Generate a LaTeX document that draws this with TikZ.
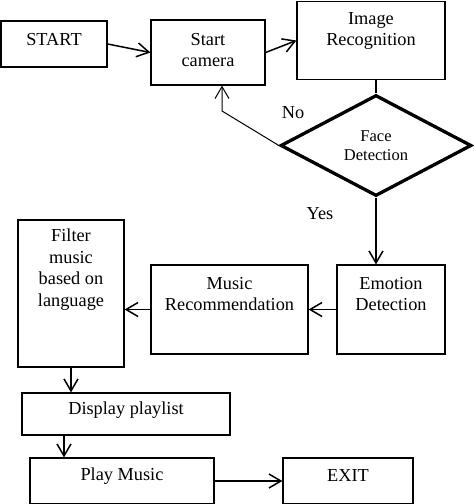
\documentclass[tikz,border=0pt]{standalone}
\usepackage{fontspec}
\setmainfont{Liberation Serif}
\usetikzlibrary{shapes.geometric, arrows.meta}

\begin{document}
\begin{tikzpicture}[x=1pt, y=-1pt, line width=1.2pt,
    font=\fontsize{18.3}{21.5}\selectfont,
    box/.style={draw, rectangle, inner sep=0pt},
    arr/.style={line width=1.5pt, -{Straight Barb[length=12pt, width=14pt]}}]
  \useasboundingbox (0,0) rectangle (474,504);
  \node[box, minimum width=106pt, minimum height=46pt, label={[yshift=4pt]center:START}] (start) at (54,44) {};
  \node[box, minimum width=114pt, minimum height=65pt, label={[align=center, yshift=2.5pt]center:Start\\camera}] (cam) at (208,52.5) {};
  \node[box, minimum width=148pt, minimum height=78pt, label={[align=center, yshift=9.5pt]center:Image\\Recognition}] (img) at (371,40.5) {};
  \node[draw, diamond, line width=3.3pt, inner sep=0pt, minimum width=191pt, minimum height=101pt,
        align=center, font=\fontsize{16.5}{19}\selectfont] (face) at (376,145.5) {Face\\Detection};
  \node (no) at (293,113) {No};
  \node (yes) at (320,214) {Yes};
  \node[box, minimum width=108pt, minimum height=89pt, label={[align=center, yshift=15.5pt]center:Emotion\\Detection}] (emo) at (391,309.5) {};
  \node[box, minimum width=157pt, minimum height=89pt, label={[align=center, yshift=15.5pt]center:Music\\Recommendation}] (rec) at (229.5,309.5) {};
  \node[box, minimum width=106pt, minimum height=147pt, label={[align=center, yshift=24pt]center:Filter\\music\\based on\\language}] (filt) at (71,293.5) {};
  \node[box, minimum width=208pt, minimum height=42pt, label={[yshift=4pt]center:Display playlist}] (disp) at (126,414) {};
  \node[box, minimum width=184pt, minimum height=46pt, label={[yshift=5pt]center:Play Music}] (play) at (122,481) {};
  \node[box, minimum width=130pt, minimum height=46pt, label={[yshift=5pt]center:EXIT}] (exit) at (348,481) {};
  \coordinate (back) at (222,111);

  \draw[arr] (start.east) -- (cam.west);
  \draw[arr] (cam.east) -- (img.west);
  \draw (img.south -| face.north) -- (face.north);
  \draw[arr, line width=1pt] (face.west) -- (back) -- (back |- cam.south);
  \draw[arr] (face.south) -- (face.south |- emo.north);
  \draw[arr] (emo.west) -- (rec.east);
  \draw[arr] (rec.west) -- (rec.west -| filt.east);
  \draw[arr] (filt.south) -- (filt.south |- disp.north);
  \draw[arr] (disp.south -| 64,0) -- (play.north -| 64,0);
  \draw[arr] (play.east) -- (exit.west);
\end{tikzpicture}
\end{document}
